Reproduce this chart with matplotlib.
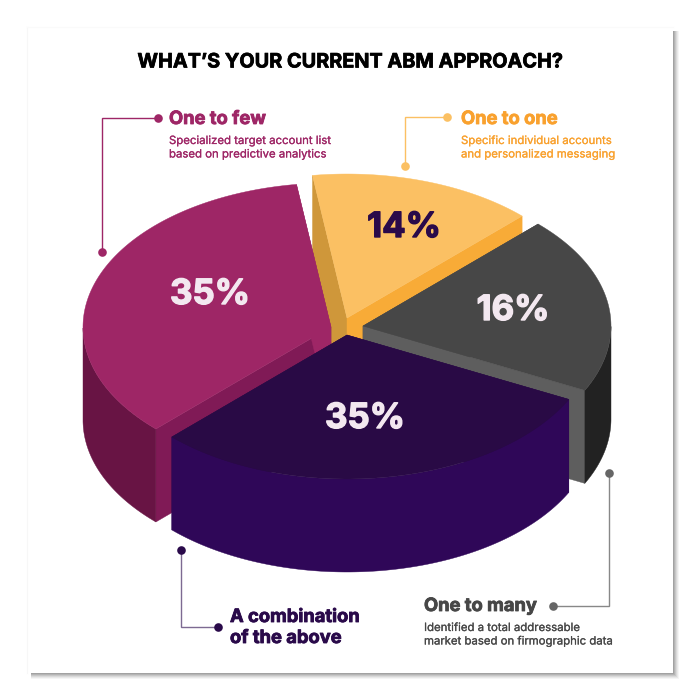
import numpy as np
import matplotlib
matplotlib.use("Agg")
import matplotlib.pyplot as plt
import matplotlib.patheffects as pe
from matplotlib.patches import Polygon, Rectangle

# ---- data ----
categories = ["One to few", "One to one", "One to many", "A combination"]
printed_labels = ["35%", "14%", "16%", "35%"]
# share of the circle each slice really occupies in the drawing (percent)
drawn_share = [35.3, 14.7, 19.9, 30.1]
title = "WHAT\u2019S YOUR CURRENT ABM APPROACH?"
descriptions = [
    "Specialized target account list\nbased on predictive analytics",
    "Specific individual accounts\nand personalized messaging",
    "Identified a total addressable\nmarket based on firmographic data",
    "",
]

# ---- style / layout ----
FONT = "Inter"
START_ANGLE = 98.0 + 35.3 * 3.6   # pink slice begins here, going clockwise
RX, RY, DEPTH = 248.0, 144.0, 93.0
centres = [(331, 327), (347, 318), (363, 326), (347, 335)]
top_col = ["#9e2666", "#fbc063", "#474747", "#290a45"]
outer_col = ["#681444", "#f8ab37", "#222222", "#2f0758"]
wall_first = ["#801a56", "#cf973a", "#474747", "#290a45"]
wall_last = ["#9e2666", "#f8ab37", "#5e5e5e", "#290a45"]
draw_order = [1, 2, 0, 3]


def heavy(col, w):
    return [pe.withStroke(linewidth=w, foreground=col)]


fig = plt.figure(figsize=(7, 7), dpi=100, facecolor="white")
ax = fig.add_axes([0, 0, 1, 1])
ax.set_xlim(0, 700)
ax.set_ylim(700, 0)
ax.axis("off")

# card with a soft shadow to the lower right
for g, a in zip([6, 5, 4, 3, 2, 1], [0.06, 0.08, 0.10, 0.13, 0.16, 0.18]):
    ax.add_patch(Rectangle((31, 31), 642 + g, 642 + g,
                           fc="#555555", ec="none", alpha=a, zorder=1))
ax.add_patch(Rectangle((27, 27), 646, 646, fc="white", ec="none", zorder=2))
ax.plot([27, 27], [27, 673], color="#f7f7f7", lw=0.8, zorder=2.1)
ax.plot([27, 673], [27, 27], color="#fafafa", lw=0.8, zorder=2.1)


def pts(c, angles, dz=0.0):
    t = np.radians(angles)
    return np.column_stack([c[0] + RX * np.cos(t), c[1] - RY * np.sin(t) + dz])


def poly(xy, col, z):
    ax.add_patch(Polygon(xy, closed=True, fc=col, ec=col, lw=0.3, zorder=z))


sweeps = np.array(drawn_share) * 3.6
a = START_ANGLE
spans = []
for s in sweeps:
    spans.append((a - s, a))
    a -= s

z = 3
for i in draw_order:
    lo, hi = spans[i]
    c = centres[i]
    tip = np.array(c, float)
    down = np.array([0, DEPTH])
    p_lo = pts(c, [lo])[0]
    p_hi = pts(c, [hi])[0]
    poly([tip, p_hi, p_hi + down, tip + down], wall_first[i], z)
    poly([tip, p_lo, p_lo + down, tip + down], wall_last[i], z)
    ang = np.linspace(lo, hi, 240)
    front = ang[np.sin(np.radians(ang)) <= 0]
    if front.size > 1:
        poly(np.vstack([pts(c, front), pts(c, front[::-1], DEPTH)]), outer_col[i], z)
    poly(np.vstack([tip, pts(c, ang)]), top_col[i], z + 0.5)
    z += 1

# percentage labels
pct_x = [210, 404, 513, 365]
pct_y = [304, 237, 320, 428]
pct_c = ["#f3e8f0", "#2a0a4a", "#f3e8f0", "#f3e8f0"]
for s, x, y, col in zip(printed_labels, pct_x, pct_y, pct_c):
    ax.text(x, y, s, ha="center", va="baseline", fontsize=25, color=col,
            family=FONT, fontweight="bold", zorder=20, path_effects=heavy(col, 1.0))

# title
ax.text(349.5, 67.5, title, ha="center", va="baseline", fontsize=14.3,
        color="black", family=FONT, fontweight="bold", zorder=20,
        path_effects=heavy("black", 0.5))

# callouts
head_x = [169, 461, 424, 230]
head_y = [124, 124, 611, 622]
head_c = ["#9e2666", "#f9a12e", "#474747", "#2a0a4a"]
heads = ["One to few", "One to one", "One to many", "A combination\nof the above"]
for s, x, y, col in zip(heads, head_x, head_y, head_c):
    for k, ln in enumerate(s.split("\n")):
        ax.text(x, y + 21 * k, ln, ha="left", va="baseline", fontsize=13.2, color=col,
                family=FONT, fontweight="bold", zorder=20, path_effects=heavy(col, 0.6))

desc_y = [144, 144, 631, 0]
for d, x, y, col in zip(descriptions, head_x, desc_y, head_c):
    for k, ln in enumerate(d.split("\n") if d else []):
        ax.text(x, y + 13.5 * k, ln, ha="left", va="baseline", fontsize=8.2, color=col,
                family=FONT, zorder=20, path_effects=heavy(col, 0.15))

leader_x = [(158, 102, 102), (447, 405, 405), (553, 609, 609), (218, 181, 181)]
leader_y = [(118, 118, 252), (117, 117, 166), (606, 606, 473), (627, 627, 550)]
leader_c = ["#9e2666", "#fbc063", "#888888", "#7d6a92"]
dot_c = ["#9e2666", "#fbc063", "#666666", "#2a0a4a"]
for xs, ys, lc, dc in zip(leader_x, leader_y, leader_c, dot_c):
    ax.plot(xs, ys, color=lc, lw=1.0, zorder=15, solid_joinstyle="miter")
    ax.plot([xs[0], xs[-1]], [ys[0], ys[-1]], ls="none", marker="o", ms=6.2,
            mfc=dc, mec=dc, mew=0, zorder=16)

fig.savefig("out.png", dpi=100)
